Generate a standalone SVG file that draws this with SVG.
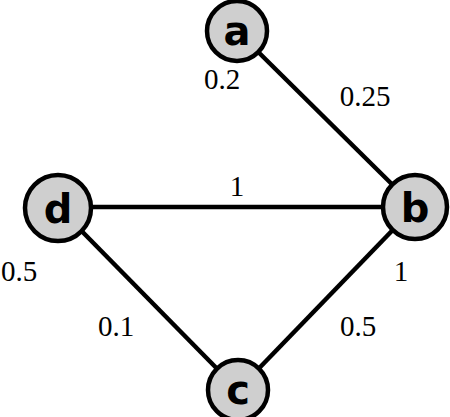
<svg xmlns="http://www.w3.org/2000/svg" width="450" height="417" viewBox="0 0 450 417">
<style>
.edge{stroke:#000;stroke-width:4.5;fill:none}
.node circle{fill:#cfcfcf;stroke:#000;stroke-width:4.5}
.node text{font-family:"DejaVu Sans",sans-serif;font-weight:bold;font-size:40px;text-anchor:middle;fill:#000}
.lbl{font-family:"Liberation Serif","DejaVu Serif",serif;font-size:29px;text-anchor:middle;fill:#000}
</style>
<rect width="450" height="417" fill="#fff"/>
<g id="connectors">
<line class="edge" x1="237" y1="31" x2="415" y2="207"/>
<line class="edge" x1="58" y1="207" x2="415" y2="207"/>
<line class="edge" x1="58" y1="207" x2="238" y2="390"/>
<line class="edge" x1="415" y1="207" x2="238" y2="390"/>
</g>
<g id="edge-labels">
<text class="lbl" x="237" y="196">1</text>
<text class="lbl" x="365" y="106">0.25</text>
<text class="lbl" x="116" y="336">0.1</text>
<text class="lbl" x="358" y="336">0.5</text>
</g>
<g id="node-a" class="node"><circle cx="237" cy="31" r="30"/><text x="237" y="45">a</text><text class="lbl" x="222" y="89" style="font-family:'Liberation Serif','DejaVu Serif',serif;font-weight:normal;font-size:29px">0.2</text></g>
<g id="node-b" class="node"><circle cx="415" cy="207" r="32"/><text x="415" y="222">b</text><text class="lbl" x="401" y="281" style="font-family:'Liberation Serif','DejaVu Serif',serif;font-weight:normal;font-size:29px">1</text></g>
<g id="node-c" class="node"><circle cx="238" cy="390" r="30"/><text x="238" y="404">c</text></g>
<g id="node-d" class="node"><circle cx="58" cy="208" r="33"/><text x="58" y="223">d</text><text class="lbl" x="19" y="281" style="font-family:'Liberation Serif','DejaVu Serif',serif;font-weight:normal;font-size:29px">0.5</text></g>
</svg>
